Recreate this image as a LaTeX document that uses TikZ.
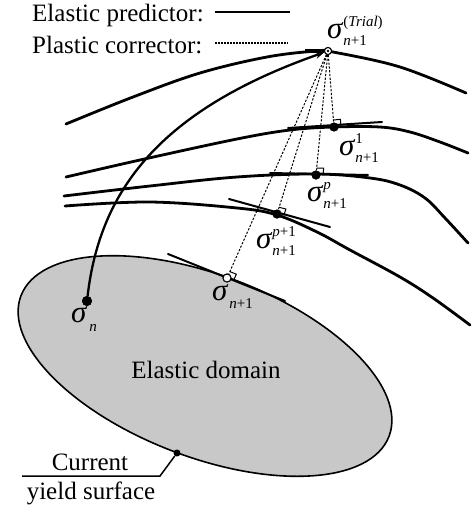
\documentclass[tikz,border=0pt]{standalone}
\usepackage{fontspec}
\setmainfont{Liberation Serif}
\usetikzlibrary{arrows.meta,calc}
\definecolor{domgray}{RGB}{200,200,200}
\newcommand\SigLab[2]{{\fontsize{31}{31}\selectfont\itshape σ}\kern1pt\raisebox{-7pt}{\fontsize{15}{19}\selectfont\begin{tabular}[b]{@{}l@{}}#1\\#2\end{tabular}}}
\newcommand\NP{{\itshape n}+1}
\newcommand\RtMark[3]{%
  \coordinate (rmA) at ($(#1)!7pt!(#2)$);
  \coordinate (rmB) at ($(#1)!7pt!(#3)$);
  \draw[mark line] (rmA) -- ($(rmA)+(rmB)-(#1)$) -- (rmB);}
\begin{document}
\begin{tikzpicture}[x=1pt,y=-1pt,
  txt/.style={font=\fontsize{25}{30}\selectfont, inner sep=0pt},
  lab/.style={inner sep=0pt, anchor=base west},
  yield/.style={line width=2.8pt, line cap=round},
  tang/.style={line width=2pt, line cap=round},
  corr/.style={line width=1pt, dash pattern=on 2.2pt off 1.6pt},
  mark line/.style={line width=1pt},
  bdot/.style={circle, fill=black, inner sep=0pt, minimum size=9pt},
  wdot/.style={circle, draw=black, fill=white, line width=1pt, inner sep=0pt, minimum size=8pt}]
\useasboundingbox (0,0) rectangle (474,514);

% elastic domain
\draw[fill=domgray, line width=1.6pt] (205,366) ellipse [x radius=197pt, y radius=91pt, rotate=-20.9];

% yield surfaces
\draw[yield] plot[smooth, tension=0.6] coordinates {(66,124) (133,97) (200,73) (267,57) (317,51) (333,52) (400,67) (466,93)};
\draw[yield] plot[smooth, tension=0.6] coordinates {(66,177) (140,160) (237,139) (290,130) (334,127) (380,127) (410,132) (440,142) (468,153)};
\draw[yield] plot[smooth, tension=0.6] coordinates {(64,196) (150,186) (237,177) (316,174) (370,178) (400,185) (425,198) (445,218) (468,243)};
\draw[yield] plot[smooth, tension=0.6] coordinates {(65,206) (150,202) (237,208) (277,215) (317,232) (350,250) (400,277) (433,298) (470,325)};

% points
\node[wdot, minimum size=7pt] (trial) at (328,51) {};
\node[bdot] (s1) at (334,127) {};
\node[bdot] (sp) at (316,175) {};
\node[bdot] (sp1) at (277,214) {};
\node[wdot] (sn1) at (227,278) {};
\node[bdot, minimum size=10pt] (sn) at (87,301) {};
\node[bdot, minimum size=7pt] (ys) at (177,453) {};

% tangent segments
\coordinate (t0a) at (305,51);
\coordinate (t1a) at (288,128); \coordinate (t1b) at (382,122);
\coordinate (t2a) at (270,173); \coordinate (t2b) at (368,175);
\coordinate (t3a) at (229,199); \coordinate (t3b) at (330,227);
\coordinate (t4a) at (168,254); \coordinate (t4b) at (285,301);
\draw[line width=4pt] (t0a) -- (trial);
\draw[tang] (t1a) -- (t1b);
\draw[tang] (t2a) -- (t2b);
\draw[tang] (t3a) -- (t3b);
\draw[tang] (t4a) -- (t4b);

% plastic corrector lines
\draw[corr] (trial) -- (s1);
\draw[corr] (trial) -- (sp);
\draw[corr] (trial) -- (sp1);
\draw[corr] (trial) -- (sn1);

% right-angle marks
\RtMark{s1}{trial}{t1b}
\RtMark{sp}{trial}{t2b}
\RtMark{sp1}{trial}{t3b}
\RtMark{sn1}{trial}{t4b}

% elastic predictor
\draw[line width=2.3pt, -{Stealth[length=9pt, width=7pt]}] (sn) .. controls (100,190) and (160,110) .. (trial);

% redraw point markers on top
\node[wdot, minimum size=7pt] at (trial) {};
\fill (trial) circle (1.3pt);
\node[bdot] at (s1) {};
\node[bdot] at (sp) {};
\node[bdot] at (sp1) {};
\node[wdot] at (sn1) {};
\node[bdot, minimum size=10pt] at (sn) {};

% labels
\node[lab] (Ltrial) at (327,38) {\SigLab{(\itshape Trial\upshape)}{\NP}};
\node[lab] (L1) at (339,155) {\SigLab{1}{\NP}};
\node[lab] (Lp) at (307,201) {\SigLab{\itshape p}{\NP}};
\node[lab] (Lp1) at (256,248) {\SigLab{{\itshape p}+1}{\NP}};
\node[lab] (Ln1) at (212,300) {{\fontsize{31}{31}\selectfont\itshape σ}\kern2pt\raisebox{-8pt}{\fontsize{15}{15}\selectfont\NP}};
\node[lab] (Ln) at (71,322) {{\fontsize{31}{31}\selectfont\itshape σ}\kern3pt\raisebox{-9pt}{\fontsize{15}{15}\selectfont\itshape n}};

% legend
\node[txt, anchor=base west] (lep) at (32,21) {Elastic predictor:};
\node[txt, anchor=base west] (lpc) at (32,53) {Plastic corrector:};
\coordinate (lepA) at (215,12); \coordinate (lepB) at (290,12);
\coordinate (lpcA) at (215,43); \coordinate (lpcB) at (288,43);
\draw[line width=2.6pt] (lepA) -- (lepB);
\draw[line width=1.2pt, dash pattern=on 1.6pt off 1.4pt] (lpcA) -- (lpcB);

% domain text and yield surface label
\node[txt, anchor=base] (dom) at (206,378) {Elastic domain};
\node[txt, anchor=base] (cur) at (90,470) {Current};
\node[txt, anchor=base] (ysl) at (91,499) {yield surface};
\coordinate (ldA) at (160,476); \coordinate (ldB) at (22,476);
\draw[line width=1.5pt] (ys) -- (ldA) -- (ldB);
\end{tikzpicture}
\end{document}
